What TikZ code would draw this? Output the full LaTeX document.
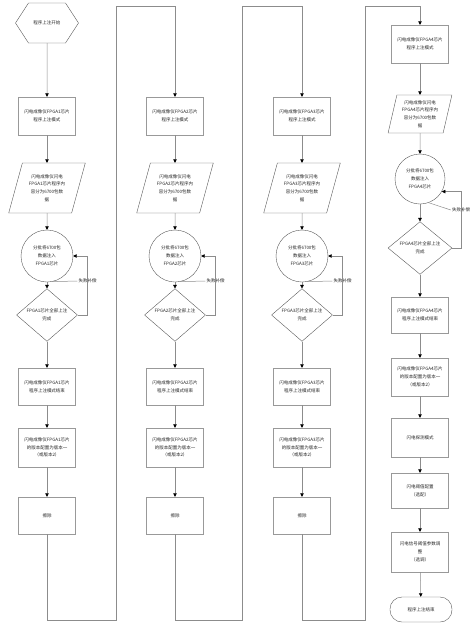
\documentclass[tikz,border=0pt]{standalone}
\usepackage{fontspec}
\setmainfont{Noto Sans CJK SC}
\usetikzlibrary{shapes.geometric,shapes.symbols,arrows.meta}

\tikzset{
  every node/.style={font=\fontsize{4.5}{7.8}\selectfont, text=black!85, align=center, inner sep=0pt},
  blk/.style={draw=black!40, minimum width=57, minimum height=38},
  para/.style={draw=black!65, trapezium, trapezium left angle=70, trapezium right angle=110,
    trapezium stretches=true, minimum width=77, minimum height=50},
  circ/.style={draw=black!65, circle, minimum size=52},
  dia/.style={draw=black!65, diamond, minimum width=61, minimum height=40},
  lbl/.style={fill=white, inner sep=1pt},
  line/.style={draw=black!45, line width=0.5pt},
  arr/.style={line, -{Triangle[black,length=3.5pt,width=3.5pt]}},
}

\begin{document}
\begin{tikzpicture}[x=1pt,y=-1pt]
  \useasboundingbox (0,0) rectangle (474,625);

  % Начало программы
  \node[draw=black!65, signal, signal to=west and east, signal pointer angle=114,
    minimum width=63, minimum height=40] (start) at (47,23) {程序上注开始};

  % Столбцы FPGA1--FPGA3
  \foreach \i/\cx in {1/47,2/175,3/302}{
    \node[blk] (b1-\i) at (\cx,116) {闪电成像仪FPGA\i{}芯片\\程序上注模式};
    \node[para] (pa-\i) at (\cx,188) {闪电成像仪闪电\\FPGA\i{}芯片程序内\\容分为6700包数\\据};
    \node[circ] (ci-\i) at (\cx,256) {分批将6700包\\数据注入\\FPGA\i{}芯片};
    \node[dia] (di-\i) at (\cx,315) {FPGA\i{}芯片全部上注\\完成};
    \node[blk, minimum height=37] (b2-\i) at (\cx,386.5) {闪电成像仪FPGA\i{}芯片\\程序上注模式结束};
    \node[blk, minimum height=39] (b3-\i) at (\cx,447.5) {闪电成像仪FPGA\i{}芯片\\的版本配置为版本一\\（或版本2）};
    \node[blk, minimum height=37] (b4-\i) at (\cx,515.5) {擦除};
    \node[lbl] (fb-\i) at (\cx+40.5,281) {失败补偿};

    \draw[arr] (b1-\i) -- (pa-\i);
    \draw[arr] (pa-\i) -- (ci-\i);
    \draw[arr] (ci-\i) -- (di-\i);
    \draw[arr] (di-\i) -- (b2-\i);
    \draw[arr] (b2-\i) -- (b3-\i);
    \draw[arr] (b3-\i) -- (b4-\i);
    % Петля повтора
    \draw[arr] (di-\i.east) -- ++(10,0) |- (ci-\i.east);
    \draw[line] (ci-\i.-78) -- (fb-\i.west);
  }

  % Столбец FPGA4
  \node[blk] (b1-4) at (420,44) {闪电成像仪FPGA4芯片\\程序上注模式};
  \node[para, minimum width=64, minimum height=38, trapezium left angle=76,
    trapezium right angle=104] (pa-4) at (420,114) {闪电成像仪闪电\\FPGA4芯片程序内\\容分为6700包数\\据};
  \node[circ, minimum size=50] (ci-4) at (420,179) {分批将6700包\\数据注入\\FPGA4芯片};
  \node[dia, minimum width=64, minimum height=50] (di-4) at (420,248) {FPGA4芯片全部上注\\完成};
  \node[blk, minimum height=36] (b2-4) at (420,315) {闪电成像仪FPGA4芯片\\程序上注模式结束};
  \node[blk] (b3-4) at (420,377) {闪电成像仪FPGA4芯片\\的版本配置为版本一\\（或版本2）};
  \node[blk, minimum height=39] (b4-4) at (420,437.5) {闪电探测模式};
  \node[blk, minimum height=35] (b5-4) at (420,490.5) {闪电阈值配置\\（选配）};
  \node[blk, minimum height=40] (b6-4) at (420,552) {闪电信号阈值参数调\\整\\（选调）};
  \node[draw=black!65, rounded corners=12, minimum width=62, minimum height=25] (end) at (421,609.5) {程序上注结束};
  \node[lbl] (fb-4) at (461,210) {失败补偿};

  \draw[arr] (b1-4) -- (pa-4);
  \draw[arr] (pa-4) -- (ci-4);
  \draw[arr] (ci-4) -- (di-4);
  \draw[arr] (di-4) -- (b2-4);
  \draw[arr] (b2-4) -- (b3-4);
  \draw[arr] (b3-4) -- (b4-4);
  \draw[arr] (b4-4) -- (b5-4);
  \draw[arr] (b5-4) -- (b6-4);
  \draw[arr] (b6-4) -- (end);
  \draw[arr] (di-4.east) -- ++(9,0) |- (ci-4.-30);
  \draw[line] (ci-4.-70) -- (fb-4.west);

  % Переходы между столбцами
  \draw[arr] (start) -- (b1-1);
  \foreach \i/\rx/\nx/\n in {1/116/175/2,2/242/302/3,3/365/420/4}{
    \draw[arr] (b4-\i.south) |- (\rx,620) |- (\nx,6) -- (b1-\n.north);
  }
\end{tikzpicture}
\end{document}
